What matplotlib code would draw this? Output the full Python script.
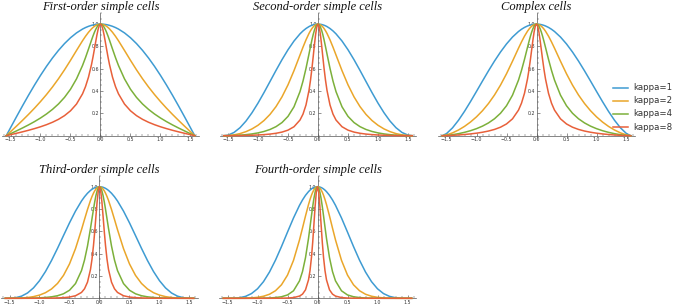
import numpy as np
import matplotlib
matplotlib.use("Agg")
import matplotlib.pyplot as plt
from matplotlib.lines import Line2D
from matplotlib.ticker import MultipleLocator, FixedLocator, FixedFormatter

# ---------------- data (half curves, symmetric about 0) ----------------
theta_half = [0, 0.02, 0.04, 0.06, 0.08, 0.1, 0.125, 0.15, 0.2, 0.25, 0.3, 0.4,
              0.5, 0.6, 0.7, 0.8, 0.9, 1.0, 1.1, 1.2, 1.3, 1.4, 1.5, 1.5708]

kappas = ["kappa=1", "kappa=2", "kappa=4", "kappa=8"]
titles = ["First-order simple cells", "Second-order simple cells", "Complex cells",
          "Third-order simple cells", "Fourth-order simple cells"]

first_k1 = [1, .9998, .9992, .9982, .9968, .995, .9922, .9888, .9801, .9689, .9553, .9211, .8776, .8253, .7648, .6967, .6216, .5403, .4536, .3624, .2675, .1700, .0707, 0]
first_k2 = [1, .9992, .9968, .9929, .9874, .9805, .9698, .9572, .9267, .8906, .8504, .7636, .6752, .5901, .5105, .4368, .3688, .3057, .2466, .1908, .1375, .0859, .0354, 0]
first_k4 = [1, .9968, .9874, .9723, .9522, .9281, .8935, .8558, .7767, .6996, .6286, .5090, .4161, .3432, .2845, .2360, .1946, .1585, .1262, .0967, .0692, .0431, .0177, 0]
first_k8 = [1, .9874, .9524, .9013, .8418, .7799, .7053, .6373, .5249, .4397, .3747, .2835, .2231, .1797, .1468, .1205, .0987, .0800, .0635, .0485, .0347, .0216, .0089, 0]

second_k1 = [1, .9996, .9984, .9964, .9936, .9900, .9845, .9777, .9605, .9388, .9127, .8484, .7701, .6812, .5850, .4854, .3864, .2919, .2058, .1313, .0716, .0289, .0050, 0]
second_k2 = [1, .9984, .9936, .9858, .9749, .9613, .9406, .9163, .8588, .7932, .7232, .5831, .4558, .3482, .2606, .1908, .1360, .0934, .0608, .0364, .0189, .0074, .0013, 0]
second_k4 = [1, .9936, .9750, .9454, .9068, .8613, .7983, .7323, .6033, .4894, .3951, .2591, .1732, .1178, .0810, .0557, .0379, .0251, .0159, .0094, .0048, .0019, .0003, 0]
second_k8 = [1, .9750, .9070, .8124, .7085, .6082, .4974, .4062, .2755, .1933, .1404, .0804, .0498, .0323, .0216, .0145, .0097, .0064, .0040, .0024, .0012, .0005, .0001, 0]

complex_k1 = [1, .9997, .9988, .9973, .9952, .9925, .9883, .9832, .9703, .9537, .9338, .8840, .8221, .7498, .6689, .5815, .4901, .3972, .3055, .2181, .1384, .0701, .0188, 0]
complex_k2 = [1, .9988, .9952, .9893, .9811, .9708, .9551, .9365, .8921, .8405, .7842, .6673, .5548, .4533, .3647, .2887, .2240, .1690, .1225, .0834, .0510, .0252, .0067, 0]
complex_k4 = [1, .9952, .9812, .9588, .9292, .8940, .8446, .7917, .6846, .5852, .4983, .3631, .2684, .2011, .1518, .1146, .0858, .0631, .0448, .0301, .0182, .0089, .0024, 0]
complex_k8 = [1, .9812, .9294, .8557, .7723, .6887, .5923, .5088, .3803, .2915, .2293, .1510, .1053, .0762, .0562, .0418, .0310, .0226, .0160, .0107, .0065, .0032, .0008, 0]

third_k1 = [1, .9994, .9976, .9946, .9904, .9851, .9768, .9667, .9414, .9096, .8719, .7814, .6759, .5622, .4474, .3382, .2402, .1577, .0933, .0476, .0191, .0049, .0004, 0]
third_k2 = [1, .9976, .9905, .9787, .9627, .9425, .9122, .8771, .7959, .7064, .6150, .4452, .3078, .2054, .1330, .0834, .0502, .0286, .0150, .0069, .0026, .0006, .0000, 0]
third_k4 = [1, .9905, .9628, .9192, .8635, .7993, .7133, .6267, .4686, .3424, .2484, .1319, .0721, .0404, .0230, .0131, .0074, .0040, .0020, .0009, .0003, .0001, 0, 0]
third_k8 = [1, .9628, .8638, .7322, .5964, .4743, .3508, .2589, .1446, .0850, .0526, .0228, .0111, .0058, .0032, .0018, .0010, .0005, .0003, .0001, 0, 0, 0, 0]

fourth_k1 = [1, .9992, .9968, .9928, .9873, .9802, .9692, .9558, .9226, .8813, .8330, .7197, .5931, .4640, .3422, .2356, .1493, .0852, .0423, .0172, .0051, .0008, .0000, 0]
fourth_k2 = [1, .9968, .9873, .9717, .9505, .9241, .8847, .8396, .7376, .6291, .5230, .3400, .2078, .1212, .0679, .0364, .0185, .0087, .0037, .0013, .0004, .0001, 0, 0]
fourth_k4 = [1, .9873, .9507, .8938, .8222, .7418, .6373, .5363, .3640, .2395, .1561, .0671, .0300, .0139, .0066, .0031, .0014, .0006, .0003, .0001, 0, 0, 0, 0]
fourth_k8 = [1, .9507, .8227, .6600, .5020, .3699, .2474, .1650, .0759, .0374, .0197, .0065, .0025, .0010, .0005, .0002, .0001, 0, 0, 0, 0, 0, 0, 0]

panels = [
    [first_k1, first_k2, first_k4, first_k8],
    [second_k1, second_k2, second_k4, second_k8],
    [complex_k1, complex_k2, complex_k4, complex_k8],
    [third_k1, third_k2, third_k4, third_k8],
    [fourth_k1, fourth_k2, fourth_k4, fourth_k8],
]

x_ticks = [-1.5, -1.0, -0.5, 0.0, 0.5, 1.0, 1.5]
x_ticklabels = ["\u22121.5", "\u22121.0", "\u22120.5", "0.0", "0.5", "1.0", "1.5"]
y_ticks = [0.2, 0.4, 0.6, 0.8, 1.0]
y_ticklabels = ["0.2", "0.4", "0.6", "0.8", "1.0"]

colors = ["#3e9bd2", "#eaa62a", "#7cb03a", "#e8603a"]

# ---------------- layout ----------------
W, H = 685, 306
fig = plt.figure(figsize=(W / 100, H / 100), dpi=100)
fig.patch.set_facecolor("white")

XLIM = (-1.64, 1.64)
YLIM = (-0.03, 1.1)
XU, YU = 60.0, 111.6
# (pixel x of y-axis, pixel y of x-axis from top)
origins = [(100.5, 135.7), (318.0, 135.7), (536.5, 135.7), (99.5, 298.3), (317.5, 298.3)]

th = np.array(theta_half)
x_full = np.concatenate([-th[:0:-1], th])

for idx, (ox, oy) in enumerate(origins):
    left = ox + XLIM[0] * XU
    width = (XLIM[1] - XLIM[0]) * XU
    top = oy - YLIM[1] * YU
    height = (YLIM[1] - YLIM[0]) * YU
    ax = fig.add_axes([left / W, 1 - (top + height) / H, width / W, height / H])
    ax.set_xlim(*XLIM)
    ax.set_ylim(*YLIM)
    ax.patch.set_alpha(0)
    for ser, col in zip(panels[idx], colors):
        yv = np.array(ser)
        y_full = np.concatenate([yv[:0:-1], yv])
        ax.plot(x_full, y_full, color=col, lw=1.1, solid_joinstyle="round", clip_on=False, zorder=3)
    ax.spines["top"].set_visible(False)
    ax.spines["right"].set_visible(False)
    ax.spines["left"].set_position("zero")
    ax.spines["bottom"].set_position("zero")
    for s in ("left", "bottom"):
        ax.spines[s].set_linewidth(0.5)
        ax.spines[s].set_color("#555555")
        ax.spines[s].set_zorder(2)
    ax.xaxis.set_major_locator(FixedLocator(x_ticks))
    ax.xaxis.set_major_formatter(FixedFormatter(x_ticklabels))
    ax.xaxis.set_minor_locator(MultipleLocator(0.1))
    ax.yaxis.set_major_locator(FixedLocator(y_ticks))
    ax.yaxis.set_major_formatter(FixedFormatter(y_ticklabels))
    ax.yaxis.set_minor_locator(MultipleLocator(0.05))
    ax.tick_params(which="major", direction="in", length=2.2, width=0.45, color="#555555",
                   labelsize=3.4, labelcolor="#333333", pad=1.0)
    ax.tick_params(which="minor", direction="in", length=1.2, width=0.35, color="#555555")
    title_y = oy - 128.5
    fig.text(ox / W, 1 - title_y / H, titles[idx], ha="center", va="center",
             fontsize=9, family="Liberation Serif", style="italic", color="#111111")

# ---------------- legend ----------------
leg_rows = [88.0, 101.0, 114.0, 127.0]
for lab, col, ry in zip(kappas, colors, leg_rows):
    fig.add_artist(Line2D([613 / W, 628 / W], [1 - ry / H, 1 - ry / H], color=col, lw=1.1))
    fig.text(633 / W, 1 - ry / H, lab, ha="left", va="center", fontsize=6.2, color="#333333")

fig.savefig("out.png", dpi=100, facecolor="white")
